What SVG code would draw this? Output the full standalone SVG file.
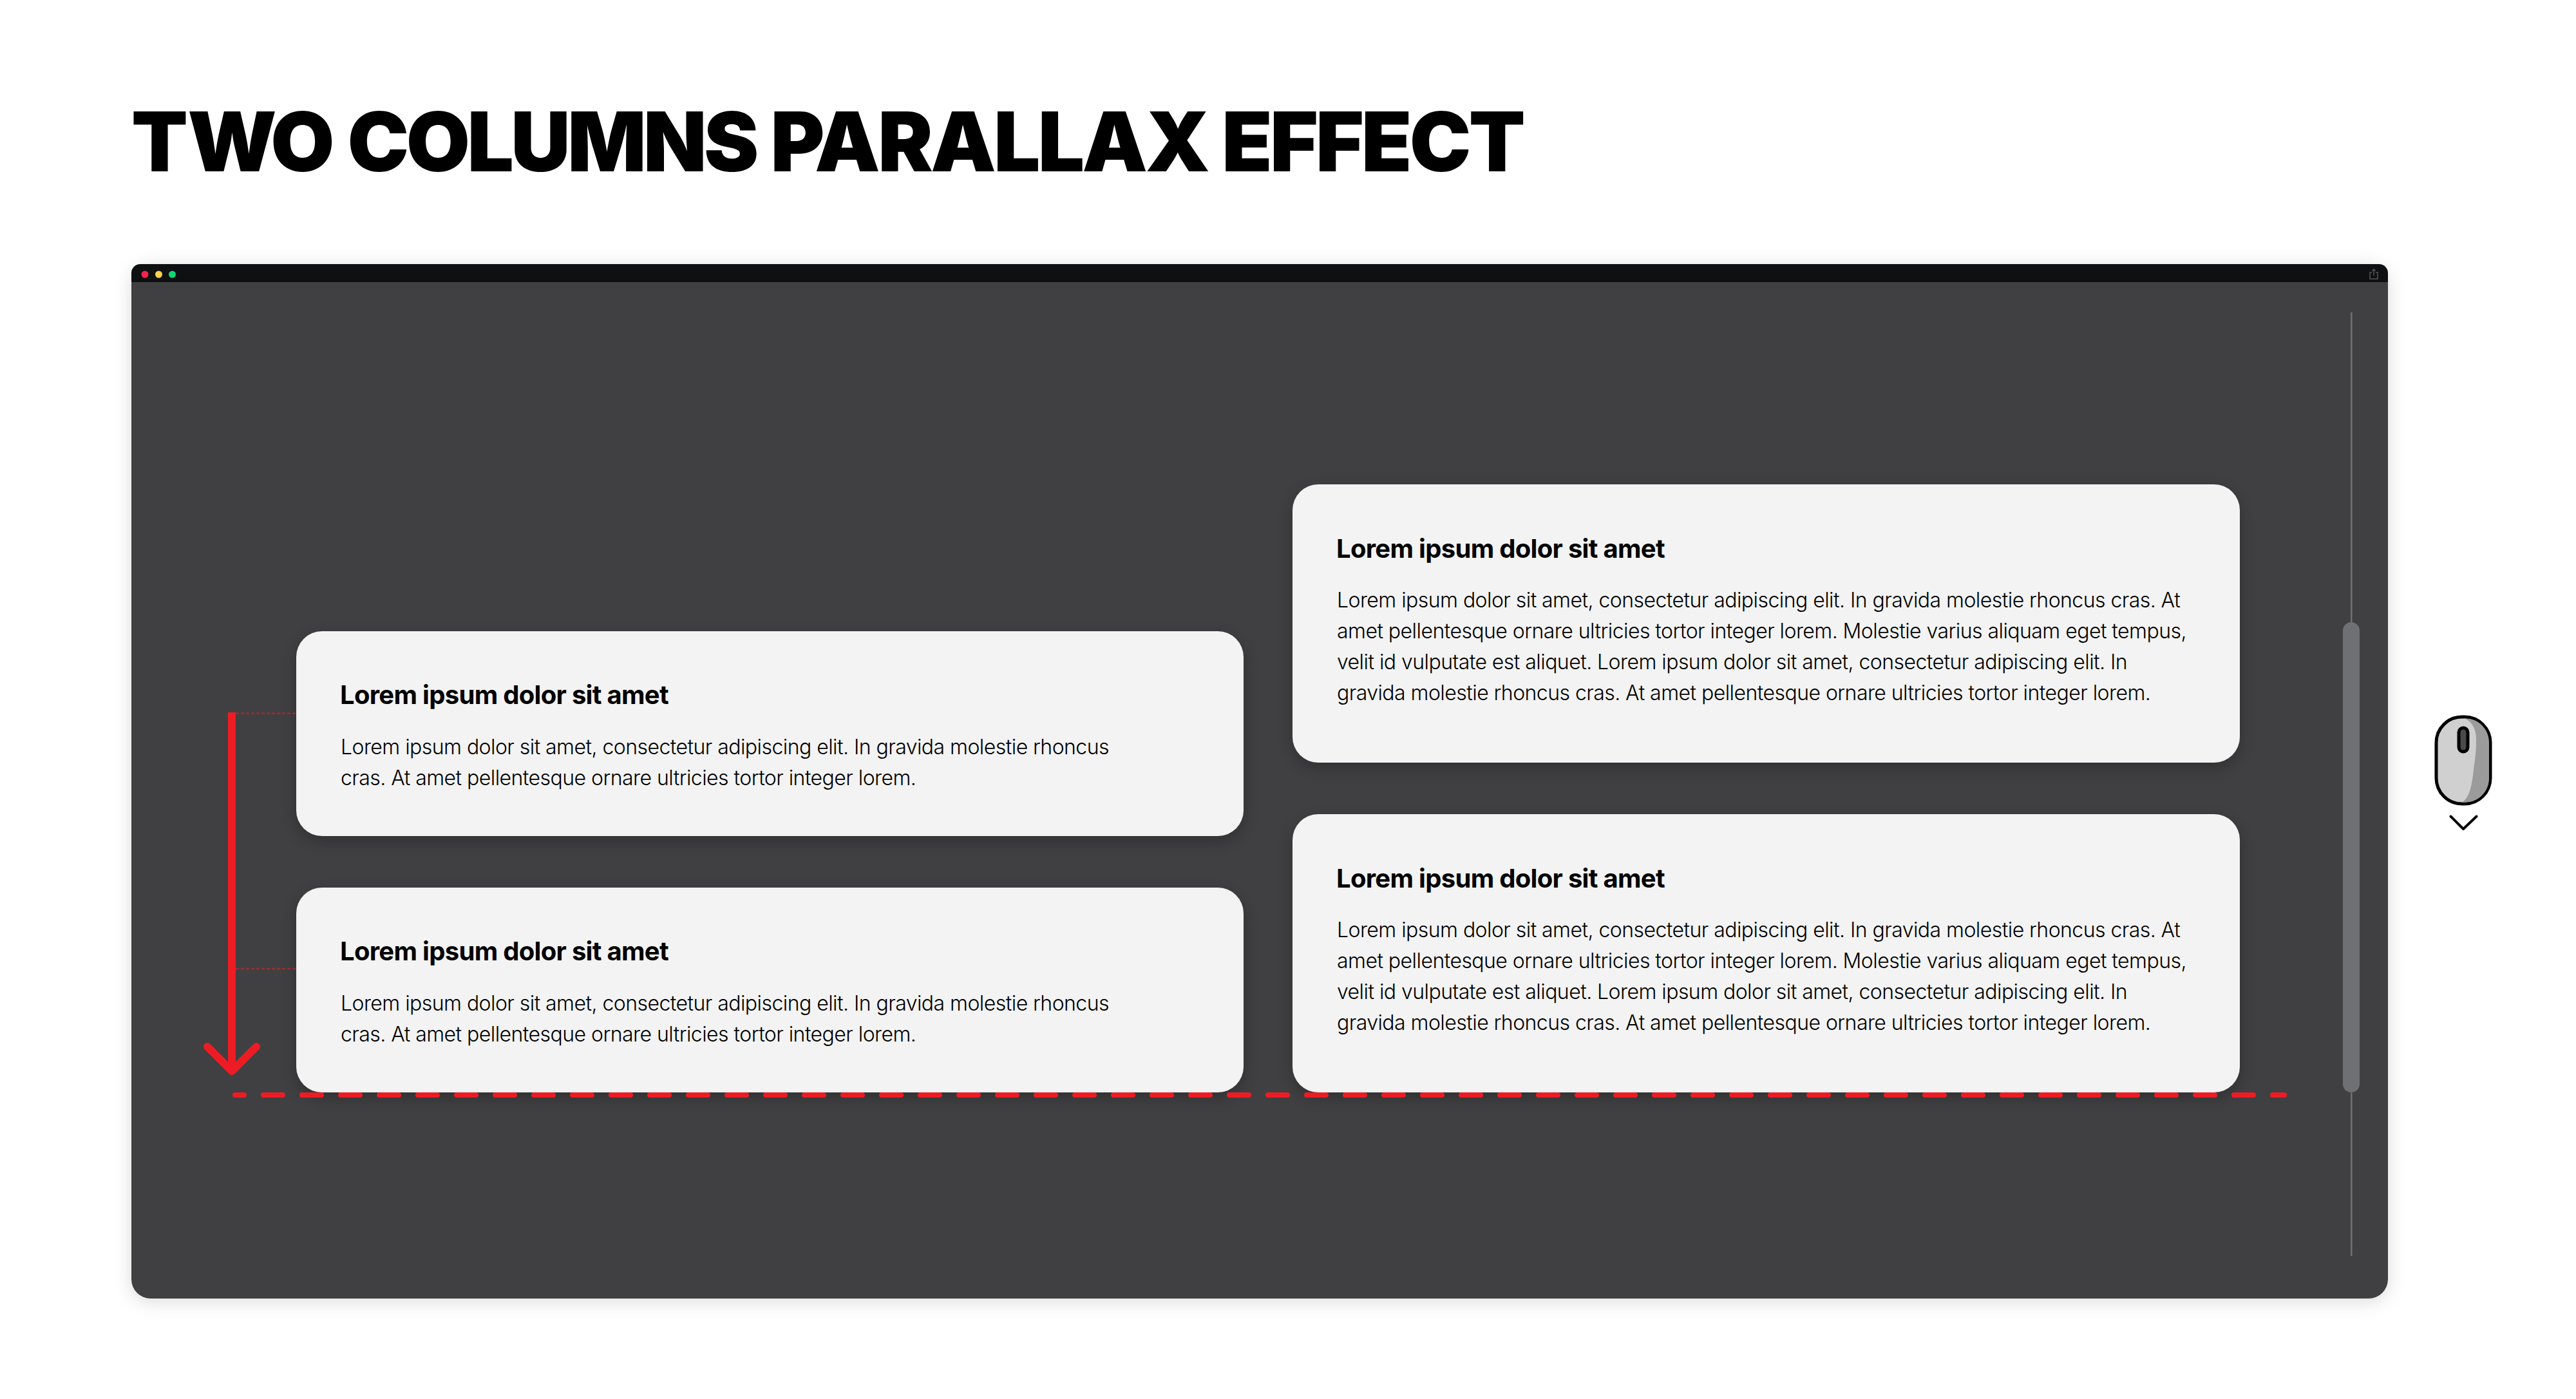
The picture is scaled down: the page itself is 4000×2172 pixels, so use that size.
<svg xmlns="http://www.w3.org/2000/svg" width="4000" height="2172" viewBox="0 0 4000 2172">
<defs>
<style>
text{font-family:Inter,"Liberation Sans",sans-serif;fill:#000}
.title{font-size:128px;font-weight:900;letter-spacing:-3.7px}
.tight{letter-spacing:-4.5px}
.h{font-size:40px;font-weight:700;letter-spacing:-.7px}
.b{font-size:32px;font-weight:350;letter-spacing:-.55px}
.card{fill:#f3f3f3;filter:url(#cs)}
</style>
<filter id="ws" x="-5%" y="-5%" width="110%" height="110%"><feDropShadow dx="0" dy="4" stdDeviation="14" flood-color="#000" flood-opacity=".15"/></filter>
<filter id="cs" x="-5%" y="-10%" width="110%" height="125%"><feDropShadow dx="0" dy="8" stdDeviation="12" flood-color="#000" flood-opacity=".25"/></filter>
</defs>
<rect width="4000" height="2172" fill="#fff"/>
<text class="title" x="204" y="266">T<tspan dx="3">WO </tspan><tspan class="tight" dx="2">COLUMN</tspan>S PARALLAX EFFECT</text>
<g id="window">
<rect x="204" y="410" width="3504" height="1606" rx="30" fill="#3f4042" filter="url(#ws)"/>
<path d="M204 438V424a14 14 0 0 1 14-14H3694a14 14 0 0 1 14 14V438Z" fill="#0f1012"/>
<circle cx="225" cy="426" r="5.500" fill="#f5224f"/><circle cx="246.500" cy="426" r="5.500" fill="#fcd14f"/><circle cx="267.500" cy="426" r="5.500" fill="#0fd573"/>
<path d="M3683 423h-3v10h12v-10h-3M3686 428v-10m-2.500 2.500l2.500-2.500 2.500 2.500" fill="none" stroke="#55565a" stroke-width="1.500"/>
</g>
<g id="scrollbar">
<rect x="3650" y="485" width="2.500" height="1465" fill="#6f7073"/>
<rect x="3638" y="966" width="26" height="730" rx="13" fill="#6f7073"/>
</g>
<g id="card-left-1"><rect class="card" x="460" y="980" width="1471" height="318" rx="40"/>
<text class="h" x="528" y="1093">Lorem ipsum dolor sit amet</text>
<text class="b" x="529" y="1171">Lorem ipsum dolor sit amet, consectetur adipiscing elit. In gravida molestie rhoncus</text>
<text class="b" x="529" y="1219">cras. At amet pellentesque ornare ultricies tortor integer lorem.</text></g>
<g id="card-left-2"><rect class="card" x="460" y="1378" width="1471" height="318" rx="40"/>
<text class="h" x="528" y="1491">Lorem ipsum dolor sit amet</text>
<text class="b" x="529" y="1569">Lorem ipsum dolor sit amet, consectetur adipiscing elit. In gravida molestie rhoncus</text>
<text class="b" x="529" y="1617">cras. At amet pellentesque ornare ultricies tortor integer lorem.</text></g>
<g id="card-right-1"><rect class="card" x="2007" y="752" width="1471" height="432" rx="40"/>
<text class="h" x="2075" y="866">Lorem ipsum dolor sit amet</text>
<text class="b" x="2076" y="943">Lorem ipsum dolor sit amet, consectetur adipiscing elit. In gravida molestie rhoncus cras. At</text>
<text class="b" x="2076" y="991">amet pellentesque ornare ultricies tortor integer lorem. Molestie varius aliquam eget tempus,</text>
<text class="b" x="2076" y="1039">velit id vulputate est aliquet. Lorem ipsum dolor sit amet, consectetur adipiscing elit. In</text>
<text class="b" x="2076" y="1087">gravida molestie rhoncus cras. At amet pellentesque ornare ultricies tortor integer lorem.</text></g>
<g id="card-right-2"><rect class="card" x="2007" y="1264" width="1471" height="432" rx="40"/>
<text class="h" x="2075" y="1378">Lorem ipsum dolor sit amet</text>
<text class="b" x="2076" y="1455">Lorem ipsum dolor sit amet, consectetur adipiscing elit. In gravida molestie rhoncus cras. At</text>
<text class="b" x="2076" y="1503">amet pellentesque ornare ultricies tortor integer lorem. Molestie varius aliquam eget tempus,</text>
<text class="b" x="2076" y="1551">velit id vulputate est aliquet. Lorem ipsum dolor sit amet, consectetur adipiscing elit. In</text>
<text class="b" x="2076" y="1599">gravida molestie rhoncus cras. At amet pellentesque ornare ultricies tortor integer lorem.</text></g>
<g id="connectors" fill="none" stroke="#ed1c24" stroke-linecap="round" stroke-linejoin="round">
<path d="M366 1107.500H460M366 1504H460" stroke-width="2.500" stroke-dasharray="5 3" stroke-linecap="butt" stroke-opacity=".55"/>
<path d="M360 1106V1660" stroke-width="12" stroke-linecap="butt"/>
<path d="M322 1625L360 1663L398 1625" stroke-width="12"/>
<path d="M365 1700H3547" stroke-width="8" stroke-dasharray="30 30" stroke-dashoffset="16"/>
</g>
<g id="mouse">
<rect x="3783" y="1113" width="84" height="135" rx="40" fill="#d0d0d0" stroke="#000" stroke-width="5"/>
<path d="M3827 1115.500h2c20 0 36 17 36 37v56c0 20-16 37-36 37h-6c9-5 14-18 17-42c2-18 5-30 5-56c0-16-7-28-18-32Z" fill="#9b9b9b"/>
<rect x="3818" y="1130" width="14" height="37" rx="7" fill="#4a4a4a" stroke="#000" stroke-width="5"/>
<path d="M3805.500 1267.500L3825 1287L3845.500 1267.500" fill="none" stroke="#000" stroke-width="4" stroke-linecap="round" stroke-linejoin="round"/>
</g>
</svg>
